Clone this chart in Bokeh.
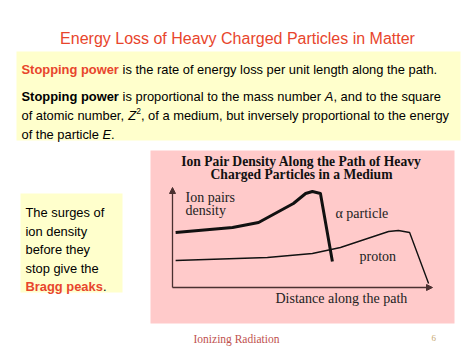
from bokeh.plotting import figure
from bokeh.models import Range1d, Label, Arrow, NormalHead
from bokeh.embed import file_html
from bokeh.resources import INLINE

# ---- data (arbitrary units: distance 0..100, ion pair density 0..100) ----
alpha_dist = [1.2, 23.1, 33.1, 46.5, 51.2, 53.8, 56.9, 61.5]
alpha_dens = [55, 60, 65, 84, 94, 96, 94, 26]
proton_dist = [1.2, 36.5, 53.8, 64.6, 75.0, 83.1, 86.9, 91.2, 98.5]
proton_dens = [27, 30, 34, 40, 49, 56, 57, 55, 4]
axis_max = 100

W, H = 474, 355
p = figure(width=W, height=H, x_range=Range1d(0, W), y_range=Range1d(H, 0),
           output_backend="svg", toolbar_location=None, min_border=0,
           background_fill_color="white", border_fill_color="white")
p.axis.visible = False
p.grid.visible = False
p.outline_line_color = None

# chart coordinate system mapped onto the slide
x0_px, px_per_d = 172, 2.6
y0_px, px_per_v = 287, 1.0
p.extra_x_ranges = {"dist": Range1d(-x0_px / px_per_d, (W - x0_px) / px_per_d)}
p.extra_y_ranges = {"dens": Range1d((y0_px - H) / px_per_v, y0_px / px_per_v)}

SANS = "Liberation Sans"
SERIF = "Liberation Serif"
RED = "#e8452c"
YELLOW = "#ffffcc"
PINK = "#ffcaca"

# boxes
p.quad(left=[16], right=[460], top=[51], bottom=[140], fill_color=YELLOW, line_color=None)
p.quad(left=[150], right=[454], top=[150], bottom=[323], fill_color=PINK, line_color=None)
p.quad(left=[20], right=[122], top=[193], bottom=[292], fill_color=YELLOW, line_color=None)

def lab(x, y, t, size, color="black", font=SANS, style="normal", align="left"):
    p.add_layout(Label(x=x, y=y, text=t, text_font=font, text_font_size=f"{size}px",
                       text_color=color, text_font_style=style, text_align=align,
                       text_baseline="alphabetic"))

lab(237, 38, "Energy Loss of Heavy Charged Particles in Matter", 16, RED, align="center")

fs = 12.9
lab(21, 69, "Stopping power", fs, RED, style="bold")
lab(122.1, 69, "is the rate of energy loss per unit length along the path.", fs)
lab(21, 96, "Stopping power", fs, style="bold")
lab(122.1, 96, "is proportional to the mass number", fs)
lab(324.3, 96, "A", fs, style="italic")
lab(332.9, 96, ", and to the square", fs)
lab(21, 115, "of atomic number,", fs)
lab(127.8, 115, "Z", fs, style="italic")
lab(135.7, 110, "2", 8.5)
lab(140.4, 115, ", of a medium, but inversely proportional to the energy", fs)
lab(21, 134, "of the particle", fs)
lab(102, 134, "E", fs, style="italic")
lab(110.6, 134, ".", fs)

lab(25, 212, "The surges of", fs)
lab(25, 230.5, "ion density", fs)
lab(25, 249, "before they", fs)
lab(25, 267.5, "stop give the", fs)
lab(25, 286, "Bragg peaks", fs, RED, style="bold")
lab(102.4, 286, ".", fs)

# chart title
lab(301, 161, "Ion Pair Density Along the Path of Heavy", 13.6, "#111111", SERIF, "bold", "center")
lab(301, 174, "Charged Particles in a Medium", 13.6, "#111111", SERIF, "bold", "center")

# axes
axc = "#4a3030"
p.add_layout(Arrow(end=NormalHead(size=6, fill_color=axc, line_color=axc), x_start=0, y_start=0,
                   x_end=axis_max, y_end=0, line_color=axc, line_width=1.3,
                   x_range_name="dist", y_range_name="dens"))
p.add_layout(Arrow(end=NormalHead(size=6, fill_color=axc, line_color=axc), x_start=0, y_start=0,
                   x_end=0, y_end=axis_max, line_color=axc, line_width=1.3,
                   x_range_name="dist", y_range_name="dens"))

p.line(alpha_dist, alpha_dens, line_width=3, line_color="#111111",
       x_range_name="dist", y_range_name="dens", line_join="round")
p.line(proton_dist, proton_dens, line_width=1.4, line_color="#111111",
       x_range_name="dist", y_range_name="dens")

lab(185, 197, "Ion pairs", 14, "#222222", SERIF)
lab(185, 210, "density", 14, "#222222", SERIF)
lab(335, 213, "\u03b1 particle", 14, "#222222", SERIF)
lab(359, 256, "proton", 14, "#222222", SERIF)
lab(275, 298, "Distance along the path", 14, "#222222", SERIF)

lab(193, 338, "Ionizing Radiation", 11.5, "#c0504d", SERIF)
lab(431, 337, "6", 9, "#c8a870", SERIF)

open("out.html", "w").write(file_html(p, INLINE))
